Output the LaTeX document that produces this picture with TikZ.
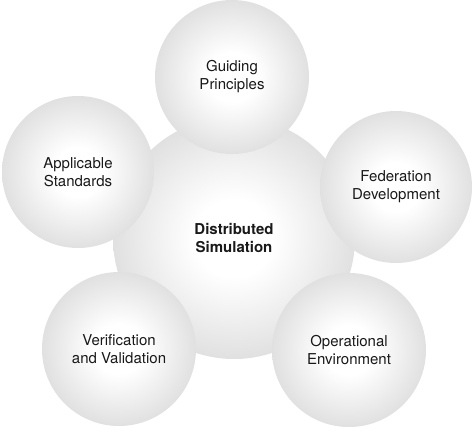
\documentclass[tikz,border=0pt]{standalone}
\usepackage{fontspec}
\setmainfont{TeX Gyre Heros}
\pgfdeclareradialshading{sphere}{\pgfpoint{0bp}{0bp}}{color(0bp)=(white); color(8bp)=(white); color(25bp)=(gray!24); color(38bp)=(gray!48); color(50bp)=(gray!82); color(100bp)=(gray!82)}
\begin{document}
\begin{tikzpicture}[x=1pt,y=-1pt,
	ball/.style={circle,shading=sphere,align=center,text=black!90,font=\fontsize{15}{18}\selectfont,inner sep=0pt}]
		\useasboundingbox (0,0) rectangle (474,442);
		\node[ball,minimum size=242pt,font=\fontsize{15}{18}\selectfont\bfseries] (sim) at (234,238) {Distributed\\Simulation};
		\node[ball,minimum size=154pt] (guide) at (232,77) {Guiding\\Principles};
		\node[ball,minimum size=152pt] (std) at (78,172) {Applicable\\Standards};
		\node[ball,minimum size=152pt] (fed) at (396,187) {Federation\\Development};
		\node[ball,minimum size=154pt] (vv) at (119,349) {Verification\\and Validation};
		\node[ball,minimum size=154pt] (env) at (349,350) {Operational\\Environment};
		%\draw[ultra thin,cyan](0,0)grid[step=50](474,442);
		\end{tikzpicture}
\end{document}
